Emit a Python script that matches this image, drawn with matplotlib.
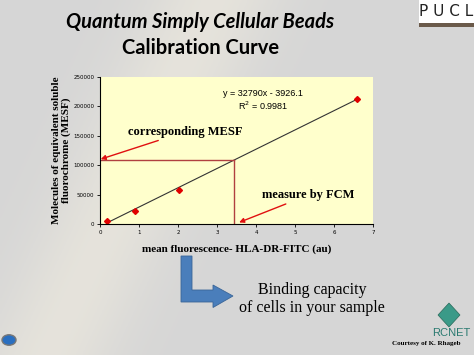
import numpy as np
import matplotlib.pyplot as plt
from matplotlib.patches import Polygon, Rectangle, Circle

# Data
bead_x = [0.19, 0.9, 2.03, 6.58]
bead_y = [5600, 22100, 57300, 212000]
slope = 32790
intercept = -3926.1
r_squared = 0.9981
sample_x = 3.44

x_ticks = [0, 1, 2, 3, 4, 5, 6, 7]
y_ticks = [0, 50000, 100000, 150000, 200000, 250000]

sample_y = slope * sample_x + intercept
fit_x = np.array([bead_x[0], bead_x[-1]])
fit_y = slope * fit_x + intercept

fig = plt.figure(figsize=(4.74, 3.55), dpi=100)
fig.patch.set_facecolor("#d8d8d8")

# slide background gradient
bg = fig.add_axes([0, 0, 1, 1], zorder=-10)
gx = np.linspace(0, 1, 200)
gy = np.linspace(0, 1, 150)
X, Y = np.meshgrid(gx, gy)
band = np.exp(-((X - 0.45 + 0.35 * Y) ** 2) / 0.02)
img = np.dstack([0.84 + 0.06 * band, 0.84 + 0.05 * band, 0.84 + 0.02 * band])
bg.imshow(img, extent=[0, 1, 0, 1], aspect="auto", origin="upper")
bg.set_xlim(0, 1)
bg.set_ylim(0, 1)
bg.axis("off")

# Chart
ax = fig.add_axes([0.211, 0.369, 0.576, 0.414])
ax.set_facecolor("#ffffcc")
ax.plot(fit_x, fit_y, color="#333333", lw=0.8)
ax.plot(bead_x, bead_y, "D", color="#e00000", ms=3)
ax.plot([0, sample_x], [sample_y, sample_y], color="#b04040", lw=1.0)
ax.plot([sample_x, sample_x], [0, sample_y], color="#b04040", lw=1.0)
ax.set_xlim(0, 7)
ax.set_ylim(0, 250000)
ax.set_xticks(x_ticks)
ax.set_yticks(y_ticks)
ax.tick_params(labelsize=4, length=2, width=0.6, pad=2)
for s in ["top", "right"]:
    ax.spines[s].set_visible(False)
ax.spines["left"].set_linewidth(0.8)
ax.spines["bottom"].set_linewidth(0.8)
ax.text(4.18, 222800, "y = 32790x - 3926.1", ha="center", va="center",
        fontsize=6.5, family="Liberation Sans")
ax.text(4.18, 200700, "R$^2$ = %.4f" % r_squared, ha="center", va="center",
        fontsize=6.5, family="Liberation Sans")
ax.set_xlabel("mean fluorescence- HLA-DR-FITC (au)", fontsize=8,
              family="Liberation Serif", weight="bold", labelpad=7)
ax.set_ylabel("Molecules of equivalent soluble\nfluorochrome (MESF)", fontsize=8,
              family="Liberation Serif", weight="bold", labelpad=2,
              linespacing=1.0)

# annotations with red arrows
ax.annotate("corresponding MESF", xy=(-0.05, sample_y), xytext=(0.72, 157000),
            fontsize=9, family="Liberation Serif", weight="bold",
            va="center", annotation_clip=False,
            arrowprops=dict(arrowstyle="-|>", color="#e01010", lw=1.0,
                            mutation_scale=7, shrinkA=0))
ax.annotate("measure by FCM", xy=(3.5, 1000), xytext=(4.15, 49000),
            fontsize=9, family="Liberation Serif", weight="bold",
            va="center", annotation_clip=False,
            arrowprops=dict(arrowstyle="-|>", color="#e01010", lw=1.0,
                            mutation_scale=7, shrinkA=0))

# Title
fig.text(0.422, 0.938, "Quantum Simply Cellular Beads", ha="center", va="center",
         fontsize=14.5, weight="bold", style="italic", family="Lato")
fig.text(0.424, 0.866, "Calibration Curve", ha="center", va="center",
         fontsize=14.5, weight="bold", family="Lato")

# blue L-shaped arrow
W, H = 474, 355
pts = [(181, 256), (192, 256), (192, 290), (213, 290), (213, 285),
       (233, 296), (213, 307.5), (213, 302), (181, 302)]
arrow = Polygon([(px / W, 1 - py / H) for px, py in pts], closed=True,
                transform=fig.transFigure, facecolor="#4a7ebb",
                edgecolor="#3a6597", lw=0.6)
fig.patches.append(arrow)

fig.text(0.658, 0.182, "Binding capacity", ha="center", va="center",
         fontsize=11.5, family="Liberation Serif")
fig.text(0.658, 0.131, "of cells in your sample", ha="center", va="center",
         fontsize=11.5, family="Liberation Serif")

# PUCL logo
fig.patches.append(Rectangle((419 / W, 1 - 23 / H), 55 / W, 23 / H,
                             transform=fig.transFigure, facecolor="white",
                             edgecolor="none"))
fig.patches.append(Rectangle((419 / W, 1 - 27 / H), 55 / W, 4 / H,
                             transform=fig.transFigure, facecolor="#6b5a4a",
                             edgecolor="none"))
fig.text(446 / W, 1 - 12 / H, "P U C L", ha="center", va="center",
         fontsize=11, family="DejaVu Sans", color="#222222")

# RCNET logo
fig.patches.append(Polygon([(449 / W, 1 - 303 / H), (460 / W, 1 - 315 / H),
                            (449 / W, 1 - 327 / H), (438 / W, 1 - 315 / H)],
                           closed=True, transform=fig.transFigure,
                           facecolor="#3a9a88", edgecolor="#2a6a5a", lw=0.5))
fig.text(451 / W, 1 - 333 / H, "RCNET", ha="center", va="center",
         fontsize=8, color="#2a7a70", family="Liberation Sans")
fig.text(392 / W, 1 - 344 / H, "Courtesy of K. Rhageb", ha="left", va="center",
         fontsize=5, weight="bold", family="Liberation Serif")

# left emblem
fig.patches.append(Circle((9 / W, 1 - 340 / H), 7 / W,
                          transform=fig.transFigure, facecolor="#2a6fc0",
                          edgecolor="#777777", lw=1.0))

fig.savefig("out.png", dpi=100, facecolor=fig.get_facecolor())
